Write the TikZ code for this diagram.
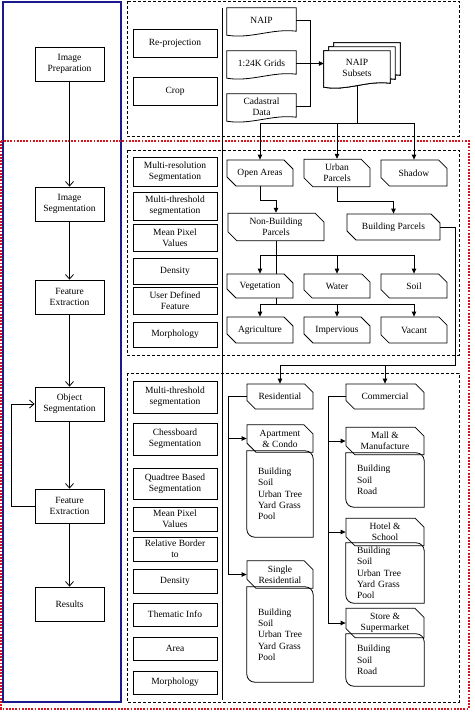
\documentclass[tikz,border=0pt]{standalone}
\usepackage{fontspec}
\setmainfont{Liberation Serif}
\usetikzlibrary{arrows.meta, shapes.misc}
\definecolor{fblue}{HTML}{1A1A8E}
\definecolor{fred}{HTML}{D8141F}
\tikzset{
  stage/.style={draw=black, line width=0.8pt, minimum width=69pt, minimum height=34pt,
                align=center, inner sep=1pt},
  tool/.style={draw=black, line width=0.8pt, minimum width=84pt, align=center, inner sep=1pt},
  cls/.style={chamfered rectangle, chamfered rectangle corners={north east, south west},
              chamfered rectangle xsep=4.5pt, chamfered rectangle ysep=4.5pt,
              draw=black, line width=0.8pt, align=center, inner sep=0.5pt},
  body/.style={align=left, inner xsep=11pt, inner ysep=1pt, font=\fontsize{9.5}{11.3}\selectfont},
  docn/.style={minimum width=69pt, minimum height=25pt, align=center, inner sep=1pt},
  group/.style={draw=black, line width=0.9pt, dash pattern=on 3pt off 2pt},
  oarr/.style={-{Straight Barb[length=4.5pt,width=8pt]}, line width=0.8pt},
  arr/.style={-{Triangle[length=5pt,width=4.5pt]}, line width=0.8pt},
  link/.style={line width=0.8pt},
}
\newcommand{\docshape}[2][]{%
  \draw[line width=0.8pt, #1] (#2.north west) -- ([yshift=-2pt]#2.south west)
    .. controls ([xshift=24pt,yshift=-6pt]#2.south west) and ([xshift=-24pt,yshift=5pt]#2.south east)
    .. ([yshift=2pt]#2.south east) -- (#2.north east) -- cycle;}

\begin{document}
\begin{tikzpicture}[x=1pt, y=-1pt, font=\fontsize{9.5}{11}\selectfont]
  \useasboundingbox (0,0) rectangle (474,712);
  % ---------------- frames ----------------
  \draw[fblue, line width=2.5pt] (3,2) rectangle (121,702);
  \draw[group] (127,1) rectangle (459,136);
  \draw[group] (127,150) rectangle (459,355);
  \draw[group] (127,373) rectangle (459,702);
  \draw[fred, line width=2.6pt, dash pattern=on 1.8pt off 1.4pt] (1,141) rectangle (469,709);
  \draw[line width=0.9pt] (222,8) -- (222,700);

  % ---------------- workflow ----------------
  \node[stage] (prep) at (69.5,64) {Image\\Preparation};
  \node[stage] (iseg) at (69.5,204) {Image\\Segmentation};
  \node[stage] (fext) at (69.5,297) {Feature\\Extraction};
  \node[stage] (oseg) at (69.5,404) {Object\\Segmentation};
  \node[stage] (fext2) at (69.5,506) {Feature\\Extraction};
  \node[stage] (rslt) at (69.5,604) {Results};
  \foreach \a/\b in {prep/iseg, iseg/fext, fext/oseg, oseg/fext2, fext2/rslt}
    \draw[oarr] (\a) -- (\b);
  \draw[oarr] (fext2.west) -- ++(-23,0) |- (oseg.west);

  % ---------------- methods ----------------
  \node[tool, minimum height=28pt] (reproj) at (175,43) {Re-projection};
  \node[tool, minimum height=28pt] (crop) at (175,91) {Crop};
  \foreach \y/\h/\t [count=\i] in {171.5/29/{Multi-resolution\\Segmentation}, 206/28/{Multi-threshold\\segmentation},
      237.5/27/{Mean Pixel\\Values}, 271/26/Density, 300.5/27/{User Defined\\Feature}, 334.5/25/Morphology}
    \node[tool, minimum height=\h pt] (fa\i) at (175,\y) {\t};
  \foreach \y/\h/\t [count=\i] in {397/32/{Multi-threshold\\segmentation}, 439/32/{Chessboard\\Segmentation},
      483.5/31/{Quadtree Based\\Segmentation}, 519/24/{Mean Pixel\\Values}, 549/24/{Relative Border\\to},
      581/24/Density, 614.5/23/Thematic Info, 648.5/23/Area, 682.5/23/Morphology}
    \node[tool, minimum height=\h pt] (fb\i) at (175,\y) {\t};

  % ---------------- data ----------------
  \node[docn] (naip) at (261.5,20.5) {NAIP};
  \node[docn] (grids) at (261.5,63.5) {1:24K Grids};
  \node[docn] (cad) at (261.5,106.5) {Cadastral\\Data};
  \foreach \d in {naip, grids, cad}
    \docshape{\d}
  % stacked copies behind the subsets
  \foreach \s/\dx/\dy in {2/10/-8, 1/5/-4, 0/0/0}
  {
    \node[docn, minimum width=66pt, minimum height=34pt] (subs\s) at (357+\dx,68+\dy) {};
    \docshape[fill=white]{subs\s}
  }
  \node[docn, minimum width=66pt, minimum height=34pt] (subs) at (subs0) {NAIP\\Subsets};
  \draw[link] (naip.east) -- ++(14,0) |- (cad.east);
  \draw[arr] (grids.east) -- (grids.east -| subs.west);

  % ---------------- land cover ----------------
  \node[cls, minimum width=66pt, minimum height=26pt] (open) at (260,173) {Open Areas};
  \node[cls, minimum width=66pt, minimum height=26pt] (urban) at (337,173) {Urban\\Parcels};
  \node[cls, minimum width=66pt, minimum height=26pt] (shadow) at (414,173) {Shadow};
  \coordinate (b0) at (0,123);
  \draw[link] (subs.south) -- (subs.south |- b0);
  \draw[link] (open.north |- b0) -- (shadow.north |- b0);
  \foreach \n in {open, urban, shadow}
    \draw[arr] (\n.north |- b0) -- (\n.north);

  \node[cls, minimum width=96pt, minimum height=26pt] (nonb) at (276,227) {Non-Building\\Parcels};
  \node[cls, minimum width=93pt, minimum height=26pt] (bldg) at (393.5,227) {Building Parcels};
  \draw[arr] (open.south) -- ++(0,14) -| (nonb.north);
  \draw[arr] (urban.south) -- ++(0,14) -| (bldg.north);

  \node[cls, minimum width=66pt, minimum height=24pt] (veg) at (260,286) {Vegetation};
  \node[cls, minimum width=66pt, minimum height=24pt] (water) at (337,286) {Water};
  \node[cls, minimum width=66pt, minimum height=24pt] (soil) at (414,286) {Soil};
  \coordinate (b1) at (0,255);
  \draw[link] (nonb.south) -- (nonb.south |- veg.north);
  \draw[link] (veg.north |- b1) -- (soil.north |- b1);
  \foreach \n in {veg, water, soil}
    \draw[arr] (\n.north |- b1) -- (\n.north);

  \node[cls, minimum width=66pt, minimum height=26pt] (agri) at (260,330) {Agriculture};
  \node[cls, minimum width=66pt, minimum height=26pt] (imperv) at (337,330) {Impervious};
  \node[cls, minimum width=66pt, minimum height=26pt] (vacant) at (414,330) {Vacant};
  \coordinate (b2) at (0,304);
  \draw[link] (nonb.south |- veg.south) -- (nonb.south |- b2);
  \draw[link] (agri.north |- b2) -- (vacant.north |- b2);
  \foreach \n in {agri, imperv, vacant}
    \draw[arr] (\n.north |- b2) -- (\n.north);

  % ---------------- building use ----------------
  \node[cls, minimum width=66pt, minimum height=25pt] (resi) at (280,396.5) {Residential};
  \node[cls, minimum width=78pt, minimum height=25pt] (comm) at (385,396.5) {Commercial};
  \coordinate (b3) at (455,365);
  \draw[link] (bldg.east) -| (b3) -- (resi.north |- b3);
  \draw[arr] (resi.north |- b3) -- (resi.north);
  \draw[arr] (comm.north |- b3) -- (comm.north);

  \node[cls, minimum width=66pt, minimum height=25pt] (apt) at (280,438.5) {Apartment\\\& Condo};
  \node[body, text width=44pt, minimum height=86pt] (aptb) at (280,494) {Building\\Soil\\Urban Tree\\Yard Grass\\Pool};
  \node[cls, minimum width=66pt, minimum height=25pt] (sres) at (280,574.5) {Single\\Residential};
  \node[body, text width=44pt, minimum height=95pt] (sresb) at (280,634.5) {Building\\Soil\\Urban Tree\\Yard Grass\\Pool};
  \node[cls, minimum width=78pt, minimum height=24pt] (mall) at (385,441) {Mall \&\\Manufacture};
  \node[body, text width=56pt, minimum height=54pt] (mallb) at (385,480) {Building\\Soil\\Road};
  \node[cls, minimum width=78pt, minimum height=22pt] (hotel) at (385,532) {Hotel \&\\School};
  \node[body, text width=56pt, minimum height=60pt] (hotelb) at (385,573) {Building\\Soil\\Urban Tree\\Yard Grass\\Pool};
  \node[cls, minimum width=78pt, minimum height=22pt] (store) at (385,623) {Store \&\\Supermarket};
  \node[body, text width=56pt, minimum height=52pt] (storeb) at (385,660) {Building\\Soil\\Road};
  \foreach \b in {aptb, sresb, mallb, hotelb, storeb}
    \draw[link] (\b.east) -- (\b.south east) [rounded corners=8pt] -- (\b.south west) [sharp corners]
      -- (\b.north west) [rounded corners=8pt] -- (\b.north east) [sharp corners] -- cycle;

  \draw[arr] (resi.west) -- ++(-18,0) |- (apt.west);
  \draw[arr] (resi.west) -- ++(-18,0) |- (sres.west);
  \foreach \n in {mall, hotel, store}
    \draw[arr] (comm.west) -- ++(-17,0) |- (\n.west);
\end{tikzpicture}
\end{document}
